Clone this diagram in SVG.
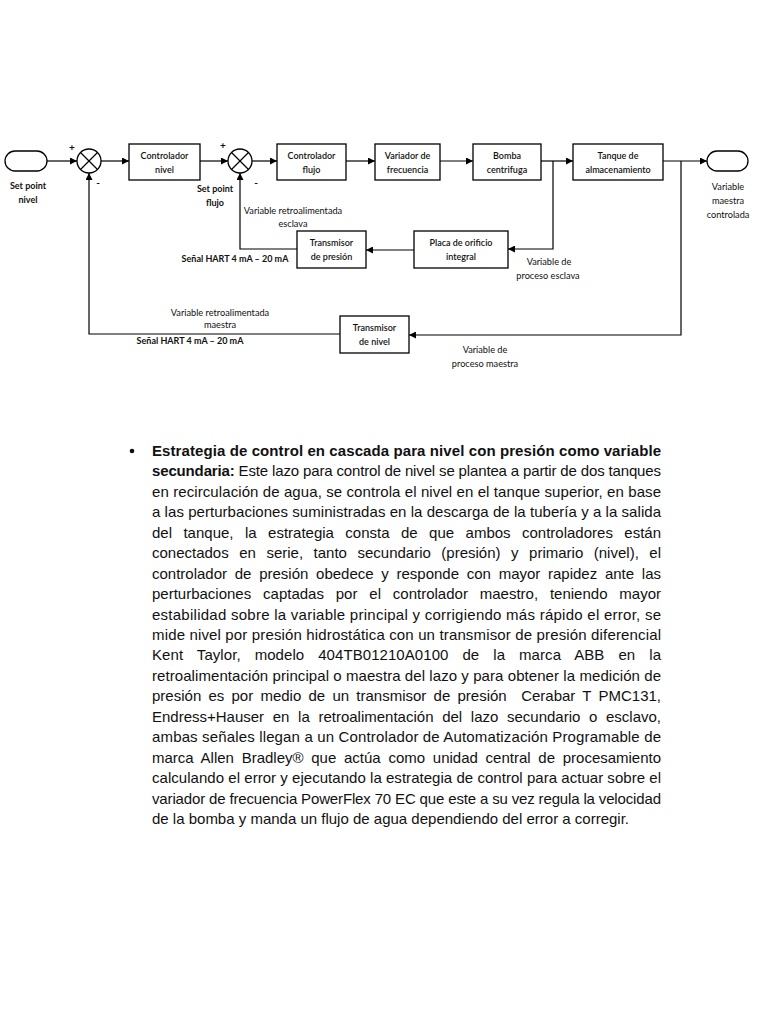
<svg xmlns="http://www.w3.org/2000/svg" width="768" height="1024" viewBox="0 0 768 1024">
<defs>
<marker id="ah" viewBox="0 0 10 10" refX="10" refY="5" markerWidth="7" markerHeight="7" markerUnits="userSpaceOnUse" orient="auto"><path d="M0,0 L10,5 L0,10 z" fill="#000"/></marker>
<style>
.b{fill:#fff;stroke:#000;stroke-width:1.3}
.c{fill:none;stroke:#000;stroke-width:1.2}
.w{fill:none;stroke:#000;stroke-width:1.2;marker-end:url(#ah)}
.t{font-family:Lato,"Liberation Sans",sans-serif;font-size:9.2px;fill:#111;text-anchor:middle}
.n{font-weight:600;font-size:9px}
.s{font-weight:bold;font-size:9px}
.p{font-family:"Liberation Sans",Arial,sans-serif;font-size:15px;fill:#111}
.pb{font-weight:bold}
</style>
</defs>
<rect width="768" height="1024" fill="#fff"/>
<g id="connectors">
<line class="w" x1="47" y1="161" x2="77" y2="161"/>
<line class="w" x1="101" y1="161" x2="129" y2="161"/>
<line class="w" x1="200" y1="161" x2="228" y2="161"/>
<line class="w" x1="252" y1="161" x2="277" y2="161"/>
<line class="w" x1="346" y1="161" x2="375" y2="161"/>
<line class="w" x1="440" y1="161" x2="473" y2="161"/>
<line class="w" x1="541" y1="161" x2="573" y2="161"/>
<line class="w" x1="663" y1="161" x2="707" y2="161"/>
<polyline class="w" points="553,161 553,249 508,249"/>
<line class="w" x1="414" y1="250" x2="366" y2="250"/>
<polyline class="w" points="297,249 240,249 240,173"/>
<polyline class="w" points="681,161 681,335 409,335"/>
<polyline class="w" points="340,334 89,334 89,173"/>
</g>
<g id="sp_nivel"><rect class="b" x="5" y="151" width="42" height="20" rx="10"/><text class="t s" x="28" y="189">Set point</text><text class="t s" x="28" y="203">nivel</text></g>
<g id="sum1"><circle class="b" cx="89" cy="161" r="12"/><path class="c" d="M80.5,152.5 L97.5,169.5 M97.5,152.5 L80.5,169.5"/><text class="t s" x="72" y="151" style="font-size:10px">+</text><text class="t s" x="98" y="186" style="font-size:10px">-</text></g>
<g id="ctrl_nivel"><rect class="b" x="129" y="144" width="71" height="36"/><text class="t n" x="164.5" y="159">Controlador</text><text class="t n" x="164.5" y="173">nivel</text></g>
<g id="sum2"><circle class="b" cx="240" cy="161" r="12"/><path class="c" d="M231.5,152.5 L248.5,169.5 M248.5,152.5 L231.5,169.5"/><text class="t s" x="223" y="149" style="font-size:10px">+</text><text class="t s" x="256" y="186" style="font-size:10px">-</text><text class="t s" x="215" y="192">Set point</text><text class="t s" x="215" y="206">flujo</text></g>
<g id="ctrl_flujo"><rect class="b" x="277" y="144" width="69" height="36"/><text class="t n" x="311.5" y="159">Controlador</text><text class="t n" x="311.5" y="173">flujo</text></g>
<g id="variador"><rect class="b" x="375" y="144" width="65" height="36"/><text class="t n" x="407.5" y="159">Variador de</text><text class="t n" x="407.5" y="173">frecuencia</text></g>
<g id="bomba"><rect class="b" x="473" y="144" width="68" height="36"/><text class="t n" x="507" y="159">Bomba</text><text class="t n" x="507" y="173">centrifuga</text></g>
<g id="tanque"><rect class="b" x="573" y="144" width="90" height="36"/><text class="t n" x="618" y="159">Tanque de</text><text class="t n" x="618" y="173">almacenamiento</text></g>
<g id="salida"><rect class="b" x="707" y="151" width="41" height="20" rx="10"/><text class="t" x="728" y="190">Variable</text><text class="t" x="728" y="204">maestra</text><text class="t" x="728" y="218">controlada</text></g>
<g id="placa"><rect class="b" x="414" y="231" width="94" height="37"/><text class="t n" x="461" y="246">Placa de orificio</text><text class="t n" x="461" y="260">integral</text></g>
<g id="trans_presion"><rect class="b" x="297" y="231" width="69" height="37"/><text class="t n" x="331.5" y="246">Transmisor</text><text class="t n" x="331.5" y="260">de presión</text></g>
<g id="trans_nivel"><rect class="b" x="340" y="316" width="69" height="37"/><text class="t n" x="374.5" y="331">Transmisor</text><text class="t n" x="374.5" y="345">de nivel</text></g>
<g id="labels">
<text class="t" x="293" y="214">Variable retroalimentada</text>
<text class="t" x="293" y="227">esclava</text>
<text class="t s" x="235" y="262">Señal HART 4 mA – 20 mA</text>
<text class="t" x="549" y="265">Variable de</text>
<text class="t" x="548" y="279">proceso esclava</text>
<text class="t" x="220" y="316">Variable retroalimentada</text>
<text class="t" x="220" y="328">maestra</text>
<text class="t s" x="190" y="344">Señal HART 4 mA – 20 mA</text>
<text class="t" x="485" y="353">Variable de</text>
<text class="t" x="485" y="367">proceso maestra</text>
</g>
<g id="paragraph">
<circle cx="132" cy="451" r="2.3" fill="#111"/>
<text class="p pb" x="152" y="456" textLength="509" lengthAdjust="spacing">Estrategia de control en cascada para nivel con presión como variable</text>
<text class="p" x="152" y="476.4" textLength="509" lengthAdjust="spacing"><tspan class="pb">secundaria:</tspan> Este lazo para control de nivel se plantea a partir de dos tanques</text>
<text class="p" x="152" y="496.9" textLength="509" lengthAdjust="spacing">en recirculación de agua, se controla el nivel en el tanque superior, en base</text>
<text class="p" x="152" y="517.3" textLength="509" lengthAdjust="spacing">a las perturbaciones suministradas en la descarga de la tubería y a la salida</text>
<text class="p" x="152" y="537.8" textLength="509" lengthAdjust="spacing" word-spacing="7.27">del tanque, la estrategia consta de que ambos controladores están</text>
<text class="p" x="152" y="558.2" textLength="509" lengthAdjust="spacing" word-spacing="6.36">conectados en serie, tanto secundario (presión) y primario (nivel), el</text>
<text class="p" x="152" y="578.7" textLength="509" lengthAdjust="spacing" word-spacing="3.54">controlador de presión obedece y responde con mayor rapidez ante las</text>
<text class="p" x="152" y="599.1" textLength="509" lengthAdjust="spacing" word-spacing="7.69">perturbaciones captadas por el controlador maestro, teniendo mayor</text>
<text class="p" x="152" y="619.6" textLength="509" lengthAdjust="spacing">estabilidad sobre la variable principal y corrigiendo más rápido el error, se</text>
<text class="p" x="152" y="640" textLength="509" lengthAdjust="spacing">mide nivel por presión hidrostática con un transmisor de presión diferencial</text>
<text class="p" x="152" y="660.4" textLength="509" lengthAdjust="spacing" word-spacing="9.77">Kent Taylor, modelo 404TB01210A0100 de la marca ABB en la</text>
<text class="p" x="152" y="680.9" textLength="509" lengthAdjust="spacing">retroalimentación principal o maestra del lazo y para obtener la medición de</text>
<text class="p" x="152" y="701.3" textLength="509" lengthAdjust="spacing" word-spacing="3.03" xml:space="preserve">presión es por medio de un transmisor de presión  Cerabar T PMC131,</text>
<text class="p" x="152" y="721.8" textLength="509" lengthAdjust="spacing" word-spacing="4.49">Endress+Hauser en la retroalimentación del lazo secundario o esclavo,</text>
<text class="p" x="152" y="742.2" textLength="509" lengthAdjust="spacing">ambas señales llegan a un Controlador de Automatización Programable de</text>
<text class="p" x="152" y="762.7" textLength="509" lengthAdjust="spacing" word-spacing="3.62">marca Allen Bradley® que actúa como unidad central de procesamiento</text>
<text class="p" x="152" y="783.1" textLength="509" lengthAdjust="spacing">calculando el error y ejecutando la estrategia de control para actuar sobre el</text>
<text class="p" x="152" y="803.6" textLength="509" lengthAdjust="spacing">variador de frecuencia PowerFlex 70 EC que este a su vez regula la velocidad</text>
<text class="p" x="152" y="824">de la bomba y manda un flujo de agua dependiendo del error a corregir.</text>
</g>
</svg>
